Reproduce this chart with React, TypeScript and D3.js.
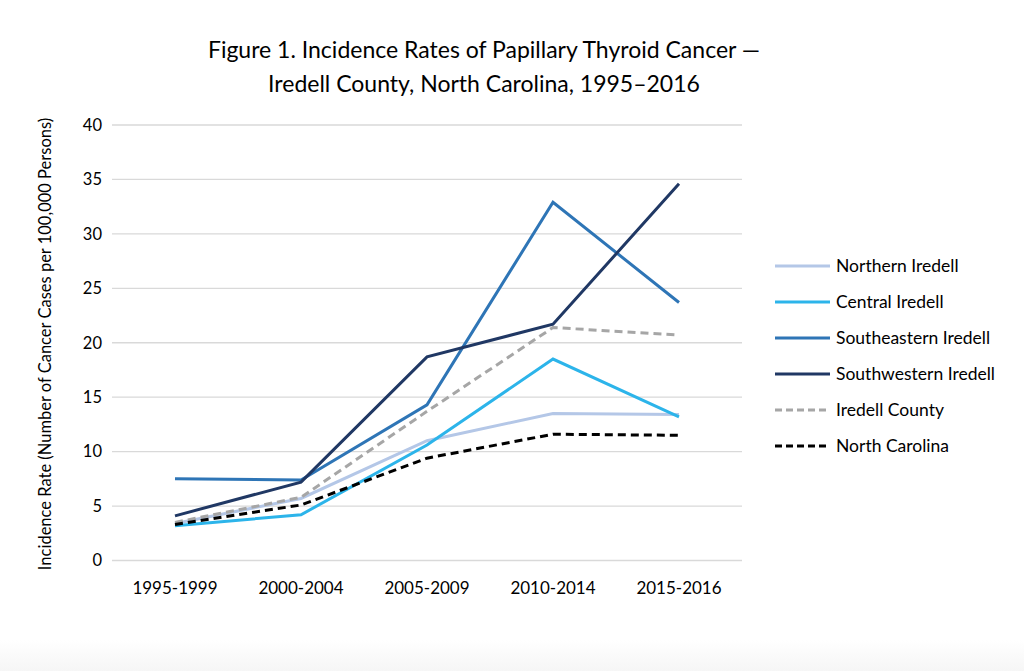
import { useEffect, useRef } from "react"
import * as d3 from "d3"

const periods = ["1995-1999", "2000-2004", "2005-2009", "2010-2014", "2015-2016"]

const northern = [3.4, 5.7, 11.0, 13.5, 13.4]
const central = [3.2, 4.2, 10.6, 18.5, 13.2]
const southeastern = [7.5, 7.4, 14.3, 32.9, 23.7]
const southwestern = [4.1, 7.2, 18.7, 21.7, 34.6]
const iredellCounty = [3.5, 5.8, 13.7, 21.4, 20.7]
const northCarolina = [3.3, 5.1, 9.4, 11.6, 11.5]

const yTicks = [0, 5, 10, 15, 20, 25, 30, 35, 40]

const seriesList = [
  { name: "Northern Iredell", values: northern, color: "#b4c7e7", dash: "" },
  { name: "Central Iredell", values: central, color: "#2cb4ea", dash: "" },
  { name: "Southeastern Iredell", values: southeastern, color: "#2e75b6", dash: "" },
  { name: "Southwestern Iredell", values: southwestern, color: "#203864", dash: "" },
  { name: "Iredell County", values: iredellCounty, color: "#a6a6a6", dash: "8 5" },
  { name: "North Carolina", values: northCarolina, color: "#000000", dash: "8 5" },
]

export default function App() {
  const svgRef = useRef<SVGSVGElement>(null)

  useEffect(() => {
    if (!svgRef.current) return
    const width = 1024
    const height = 671
    const font = "Lato, 'Open Sans', sans-serif"

    const svg = d3.select(svgRef.current)
    svg.selectAll("*").remove()
    svg.attr("width", width).attr("height", height).style("font-family", font)

    // background with faint grey fade at the bottom edge
    const grad = svg
      .append("defs")
      .append("linearGradient")
      .attr("id", "bottomFade")
      .attr("x1", 0)
      .attr("x2", 0)
      .attr("y1", 0)
      .attr("y2", 1)
    grad.append("stop").attr("offset", "0%").attr("stop-color", "#ffffff")
    grad.append("stop").attr("offset", "100%").attr("stop-color", "#f6f6f6")
    svg.append("rect").attr("width", width).attr("height", height).attr("fill", "#fff")
    svg.append("rect").attr("y", 640).attr("width", width).attr("height", 31).attr("fill", "url(#bottomFade)")

    // plot area
    const x = d3.scaleBand<string>().domain(periods).range([112, 742])
    const y = d3.scaleLinear().domain([0, 40]).range([560.5, 125])

    // title
    const title = svg.append("g").attr("text-anchor", "middle").style("font-size", "23px").attr("fill", "#000")
    title.append("text").attr("x", 484).attr("y", 58).text("Figure 1. Incidence Rates of Papillary Thyroid Cancer —")
    title.append("text").attr("x", 484).attr("y", 92).text("Iredell County, North Carolina, 1995–2016")

    // gridlines
    svg
      .append("g")
      .selectAll("line")
      .data(yTicks)
      .enter()
      .append("line")
      .attr("x1", 112)
      .attr("x2", 742)
      .attr("y1", (d) => y(d))
      .attr("y2", (d) => y(d))
      .attr("stroke", "#d9d9d9")
      .attr("stroke-width", 1.3)

    // y tick labels
    svg
      .append("g")
      .selectAll("text")
      .data(yTicks)
      .enter()
      .append("text")
      .attr("x", 102)
      .attr("y", (d) => y(d))
      .attr("dy", "0.35em")
      .attr("text-anchor", "end")
      .style("font-size", "16.5px")
      .attr("fill", "#000")
      .text((d) => d)

    // x tick labels
    svg
      .append("g")
      .selectAll("text")
      .data(periods)
      .enter()
      .append("text")
      .attr("x", (d) => x(d)! + x.bandwidth() / 2)
      .attr("y", 594)
      .attr("text-anchor", "middle")
      .style("font-size", "17px")
      .attr("fill", "#000")
      .text((d) => d)

    // y axis title
    svg
      .append("text")
      .attr("transform", `translate(51, ${(118 + 570) / 2}) rotate(-90)`)
      .attr("text-anchor", "middle")
      .style("font-size", "16.5px")
      .attr("fill", "#000")
      .text("Incidence Rate (Number of Cancer Cases per 100,000 Persons)")

    const line = d3
      .line<number>()
      .x((_, i) => x(periods[i])! + x.bandwidth() / 2)
      .y((d) => y(d))

    seriesList.forEach((s) => {
      svg
        .append("path")
        .datum(s.values)
        .attr("d", line)
        .attr("fill", "none")
        .attr("stroke", s.color)
        .attr("stroke-width", 3)
        .attr("stroke-dasharray", s.dash || null)
    })

    // legend
    const legend = svg.append("g").attr("transform", "translate(775, 266)")
    seriesList.forEach((s, i) => {
      const row = legend.append("g").attr("transform", `translate(0, ${i * 36})`)
      row
        .append("line")
        .attr("x1", 0)
        .attr("x2", 55)
        .attr("stroke", s.color)
        .attr("stroke-width", 3)
        .attr("stroke-dasharray", s.dash ? "7 4" : null)
      row
        .append("text")
        .attr("x", 61)
        .attr("dy", "0.35em")
        .style("font-size", "17.5px")
        .attr("fill", "#000")
        .text(s.name)
    })
  }, [])

  return (
    <div style={{ position: "absolute", left: 0, top: 0 }}>
      <svg ref={svgRef} />
    </div>
  )
}
